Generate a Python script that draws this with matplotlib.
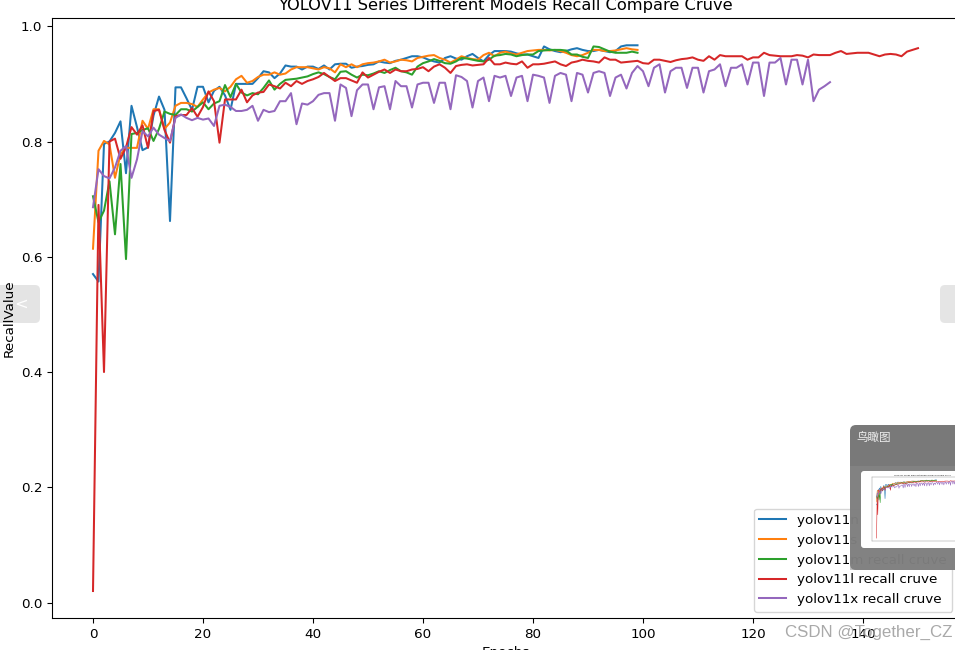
import matplotlib
matplotlib.use("Agg")
import matplotlib.pyplot as plt
from matplotlib.patches import FancyBboxPatch
from matplotlib.transforms import IdentityTransform

# ---------------- data ----------------
recall_n = [0.570, 0.557, 0.796, 0.800, 0.815, 0.835, 0.745, 0.862, 0.825, 0.785,
            0.790, 0.845, 0.878, 0.855, 0.662, 0.894, 0.894, 0.875, 0.855, 0.895,
            0.895, 0.868, 0.888, 0.895, 0.880, 0.855, 0.900, 0.900, 0.900, 0.900,
            0.910, 0.922, 0.920, 0.910, 0.918, 0.932, 0.930, 0.930, 0.925, 0.930,
            0.930, 0.926, 0.932, 0.925, 0.934, 0.935, 0.935, 0.928, 0.930, 0.931,
            0.933, 0.934, 0.939, 0.937, 0.936, 0.940, 0.942, 0.945, 0.948, 0.948,
            0.946, 0.942, 0.939, 0.937, 0.945, 0.948, 0.944, 0.942, 0.948, 0.952,
            0.945, 0.939, 0.950, 0.957, 0.957, 0.957, 0.956, 0.953, 0.951, 0.951,
            0.948, 0.945, 0.965, 0.960, 0.957, 0.955, 0.957, 0.960, 0.962, 0.959,
            0.957, 0.957, 0.959, 0.957, 0.955, 0.957, 0.965, 0.967, 0.967, 0.967]

recall_s = [0.614, 0.784, 0.801, 0.795, 0.737, 0.778, 0.789, 0.789, 0.789, 0.836,
            0.822, 0.856, 0.856, 0.822, 0.833, 0.862, 0.867, 0.867, 0.865, 0.860,
            0.873, 0.885, 0.890, 0.893, 0.887, 0.895, 0.908, 0.914, 0.902, 0.905,
            0.912, 0.916, 0.916, 0.920, 0.916, 0.918, 0.925, 0.929, 0.929, 0.929,
            0.927, 0.925, 0.929, 0.927, 0.920, 0.934, 0.929, 0.934, 0.929, 0.934,
            0.936, 0.937, 0.939, 0.942, 0.937, 0.939, 0.942, 0.941, 0.939, 0.945,
            0.947, 0.949, 0.950, 0.945, 0.942, 0.937, 0.942, 0.948, 0.945, 0.943,
            0.942, 0.950, 0.954, 0.948, 0.954, 0.956, 0.953, 0.951, 0.954, 0.957,
            0.958, 0.959, 0.959, 0.958, 0.959, 0.957, 0.954, 0.950, 0.948, 0.950,
            0.954, 0.959, 0.959, 0.957, 0.957, 0.958, 0.960, 0.962, 0.960, 0.959]

recall_m = [0.705, 0.660, 0.680, 0.731, 0.639, 0.761, 0.596, 0.813, 0.815, 0.820,
            0.823, 0.801, 0.822, 0.852, 0.848, 0.846, 0.856, 0.856, 0.852, 0.860,
            0.868, 0.856, 0.866, 0.870, 0.898, 0.877, 0.900, 0.885, 0.880, 0.884,
            0.882, 0.893, 0.906, 0.890, 0.900, 0.907, 0.908, 0.909, 0.911, 0.913,
            0.917, 0.920, 0.917, 0.912, 0.908, 0.921, 0.922, 0.916, 0.911, 0.916,
            0.915, 0.918, 0.922, 0.919, 0.924, 0.928, 0.922, 0.920, 0.916, 0.930,
            0.936, 0.939, 0.943, 0.940, 0.936, 0.935, 0.939, 0.945, 0.944, 0.942,
            0.940, 0.939, 0.942, 0.949, 0.950, 0.952, 0.951, 0.948, 0.950, 0.951,
            0.951, 0.957, 0.958, 0.959, 0.959, 0.959, 0.958, 0.951, 0.951, 0.947,
            0.945, 0.965, 0.964, 0.960, 0.956, 0.954, 0.954, 0.954, 0.956, 0.954]

recall_l = [0.020, 0.690, 0.400, 0.800, 0.805, 0.770, 0.790, 0.825, 0.812, 0.828,
            0.789, 0.853, 0.855, 0.820, 0.798, 0.844, 0.846, 0.846, 0.858, 0.843,
            0.860, 0.887, 0.870, 0.798, 0.873, 0.873, 0.873, 0.890, 0.868, 0.880,
            0.885, 0.886, 0.899, 0.896, 0.892, 0.902, 0.896, 0.905, 0.900, 0.905,
            0.908, 0.912, 0.919, 0.912, 0.905, 0.910, 0.910, 0.906, 0.902, 0.920,
            0.911, 0.916, 0.921, 0.925, 0.919, 0.925, 0.922, 0.922, 0.925, 0.926,
            0.929, 0.922, 0.930, 0.934, 0.928, 0.919, 0.931, 0.933, 0.934, 0.932,
            0.933, 0.934, 0.945, 0.934, 0.934, 0.937, 0.935, 0.934, 0.939, 0.928,
            0.934, 0.934, 0.935, 0.937, 0.939, 0.934, 0.931, 0.937, 0.939, 0.942,
            0.940, 0.939, 0.937, 0.946, 0.942, 0.942, 0.937, 0.938, 0.939, 0.940,
            0.936, 0.935, 0.942, 0.942, 0.940, 0.938, 0.941, 0.943, 0.944, 0.946,
            0.942, 0.940, 0.948, 0.942, 0.950, 0.948, 0.948, 0.948, 0.948, 0.942,
            0.946, 0.946, 0.954, 0.950, 0.949, 0.948, 0.948, 0.948, 0.950, 0.949,
            0.946, 0.951, 0.950, 0.950, 0.950, 0.954, 0.957, 0.952, 0.953, 0.954,
            0.954, 0.954, 0.951, 0.948, 0.951, 0.952, 0.951, 0.948, 0.956, 0.959,
            0.962]

recall_x = [0.686, 0.752, 0.740, 0.736, 0.755, 0.784, 0.792, 0.737, 0.769, 0.818,
            0.809, 0.824, 0.812, 0.806, 0.801, 0.841, 0.847, 0.841, 0.837, 0.841,
            0.838, 0.840, 0.827, 0.862, 0.864, 0.860, 0.853, 0.853, 0.855, 0.862,
            0.836, 0.855, 0.851, 0.853, 0.870, 0.870, 0.884, 0.830, 0.866, 0.864,
            0.870, 0.881, 0.884, 0.884, 0.836, 0.899, 0.893, 0.844, 0.889, 0.899,
            0.899, 0.856, 0.894, 0.896, 0.856, 0.905, 0.896, 0.896, 0.859, 0.899,
            0.902, 0.902, 0.867, 0.902, 0.902, 0.856, 0.915, 0.912, 0.905, 0.859,
            0.905, 0.911, 0.870, 0.914, 0.911, 0.914, 0.879, 0.911, 0.914, 0.870,
            0.916, 0.914, 0.911, 0.867, 0.914, 0.919, 0.916, 0.870, 0.919, 0.916,
            0.885, 0.919, 0.922, 0.919, 0.879, 0.911, 0.916, 0.892, 0.919, 0.931,
            0.922, 0.896, 0.928, 0.934, 0.885, 0.922, 0.928, 0.928, 0.893, 0.928,
            0.928, 0.885, 0.922, 0.925, 0.934, 0.896, 0.928, 0.928, 0.934, 0.899,
            0.937, 0.937, 0.879, 0.937, 0.937, 0.945, 0.899, 0.942, 0.942, 0.899,
            0.942, 0.870, 0.890, 0.896, 0.903]

series = [
    ("yolov11n recall cruve", recall_n),
    ("yolov11s recall cruve", recall_s),
    ("yolov11m recall cruve", recall_m),
    ("yolov11l recall cruve", recall_l),
    ("yolov11x recall cruve", recall_x),
]
title_text = "YOLOV11 Series Different Models Recall Compare Cruve"
x_label = "Epochs"
y_label = "RecallValue"
watermark = "CSDN @Together_CZ"
panel_title = "鸟瞰图"

# ---------------- figure ----------------
W, H = 956, 650
DPI = 97.6
fig = plt.figure(figsize=(W / DPI, H / DPI), dpi=DPI)
fig.patch.set_facecolor("white")

ax = fig.add_axes([51.75 / W, 1 - 618.3 / H, 907.5 / W, 600.3 / H])
for label, vals in series:
    ax.plot(range(len(vals)), vals, label=label)
ax.set_title(title_text)
ax.set_xlabel(x_label)
ax.set_ylabel(y_label)
ax.legend(loc="lower right")

# ---------------- page overlays captured in the screenshot ----------------
ident = IdentityTransform()


def box(x0, y0, x1, y1, color, alpha=1.0, rounding=0.0, z=2):
    p = FancyBboxPatch((x0, H - y1), x1 - x0, y1 - y0,
                       boxstyle=f"round,pad=0,rounding_size={rounding}",
                       transform=ident, facecolor=color, edgecolor="none",
                       alpha=alpha, zorder=z)
    fig.patches.append(p)
    return p


# navigation buttons (left one sits behind the y label)
box(-10, 285, 40, 323, "#e3e3e3", alpha=0.95, rounding=5, z=-1)
box(940, 285, 975, 323, "#e3e3e3", alpha=0.9, rounding=5)
fig.text(21 / W, 1 - 304 / H, "<", color="white", fontsize=12,
         ha="center", va="center", zorder=4)

# bird's-eye panel
box(850, 425, 975, 570, "#6f6f6f", alpha=0.93, rounding=6, z=2)
box(850, 466, 975, 570, "#8b8b8b", alpha=0.55, rounding=0, z=2.1)
fig.text(856 / W, 1 - 437 / H, panel_title, color="#eeeeee", fontsize=8.5,
         family=["Noto Sans CJK SC", "DejaVu Sans"], ha="left", va="center", zorder=4)
box(861, 471, 975, 548, "white", alpha=1.0, rounding=3, z=2.2)

thumb = fig.add_axes([872 / W, 1 - 541 / H, 100 / W, 64 / H])
thumb.set_zorder(5)
for label, vals in series:
    thumb.plot(range(len(vals)), vals, lw=0.4)
thumb.set_xticks([])
thumb.set_yticks([])
for s in thumb.spines.values():
    s.set_linewidth(0.3)
    s.set_color("#888888")
thumb.set_title(title_text, fontsize=1.5, pad=1)

# watermark
fig.text(952 / W, 1 - 632 / H, watermark, color="#a0a0a0", fontsize=12.5,
         family=["Liberation Sans", "DejaVu Sans"], ha="right", va="center",
         alpha=0.9, zorder=4)

fig.savefig("out.png", dpi=DPI)
